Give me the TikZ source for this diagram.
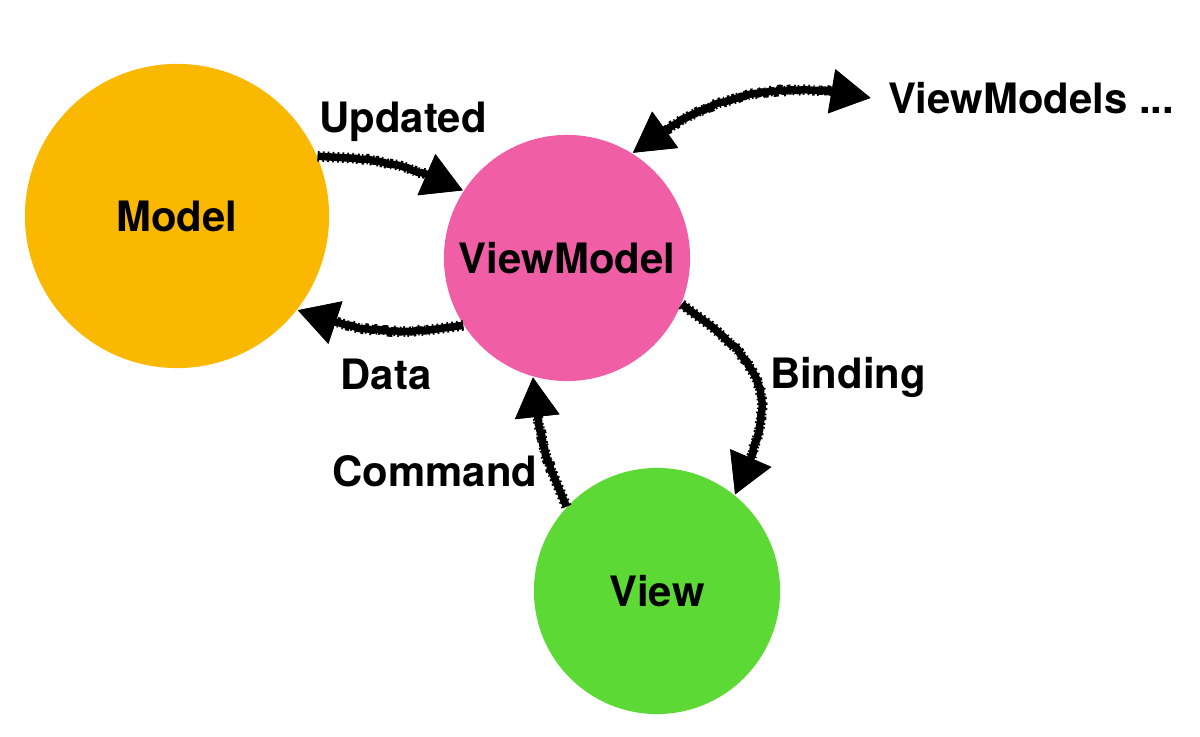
\documentclass[tikz,border=0pt]{standalone}
\usepackage{fontspec}
\setmainfont{TeX Gyre Heros}
\usetikzlibrary{arrows.meta,decorations.pathmorphing}
\definecolor{modelcol}{RGB}{251,184,0}
\definecolor{vmcol}{RGB}{240,95,166}
\definecolor{viewcol}{RGB}{93,217,54}
\begin{document}
\begin{tikzpicture}[x=0.01cm, y=0.01cm]
\pgfmathsetseed{7}
\tikzstyle{every node}+=[inner sep=0pt, font=\fontsize{11.9}{14}\selectfont\bfseries]
\tikzstyle{bubble}=[circle, draw=none]
\tikzstyle{sketch}=[black, line width=0.075cm, line join=round, decorate,
  decoration={random steps, segment length=1pt, amplitude=0.25pt, pre length=10pt, post length=10pt},
  postaction={draw, line width=0.105cm, dash pattern=on 0.5pt off 0.9pt}]
\tikzstyle{tip}=[-{Triangle[length=0.4cm, width=0.42cm]}]
\tikzstyle{tips}=[{Triangle[length=0.4cm, width=0.42cm]}-{Triangle[length=0.4cm, width=0.42cm]}]
\useasboundingbox (0,0) rectangle (1200,737);

\node [bubble, fill=modelcol, minimum size=3.04cm] (model) at (177,521) {Model};
\node [bubble, fill=vmcol, minimum size=2.46cm] (viewmodel) at (567,479) {ViewModel};
\node [bubble, fill=viewcol, minimum size=2.46cm] (view) at (657,146) {View};
\node [outer sep=0.17cm] (others) at (1031,639) {ViewModels ...};

\node (updated) at (403,615) {Updated};
\node (data) at (386,363) {Data};
\node (binding) at (848,360) {Binding};
\node (command) at (435,266) {Command};

\draw [sketch, tip] (model.23) to [bend left=12] (viewmodel.147);
\draw [sketch, tip] (viewmodel.213) to [bend left=15] (model.-38);
\draw [sketch, tip] (viewmodel.-22) to [out=-35, in=65, looseness=1.4] (view.51);
\draw [sketch, tip] (view.137) to [bend left=10] (viewmodel.254);
\draw [sketch, tips] (viewmodel.58) to [bend left=25] (others.west);
\end{tikzpicture}
\end{document}
